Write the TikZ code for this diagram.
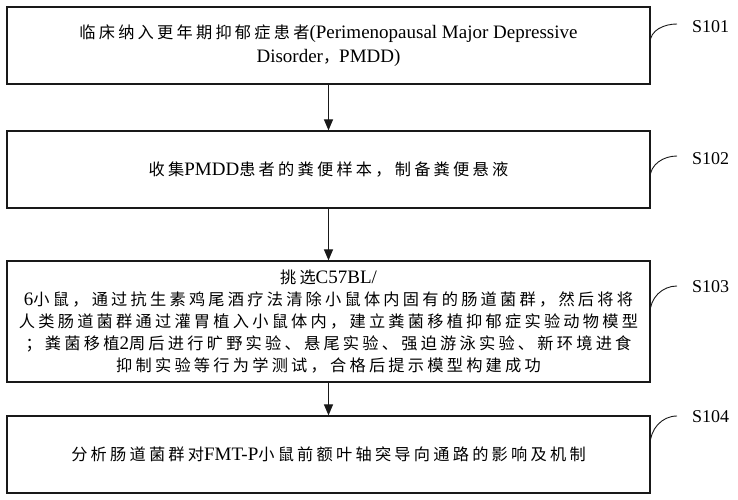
\documentclass[tikz,border=0pt]{standalone}
\usepackage{fontspec}
\setmainfont{Liberation Serif}
\newfontfamily\zhfont[LetterSpace=20,Scale=0.853]{Noto Sans CJK SC}
\newcommand{\zh}[1]{{\zhfont #1}}
\usetikzlibrary{arrows.meta}
\definecolor{flowBlack}{RGB}{25,25,25}

\begin{document}
\begin{tikzpicture}[x=1pt,y=1pt,
  stepbox/.style={draw=flowBlack,line width=1.2pt,minimum width=643pt,
    inner sep=0pt,align=center,font=\fontsize{19}{22}\selectfont},
  flow/.style={-{Triangle[length=11pt,width=9pt]},line width=1.2pt,flowBlack},
  tag/.style={anchor=west,inner sep=0pt,font=\fontsize{18}{20}\selectfont},
  hook/.style={line width=0.9pt,flowBlack}]
  \useasboundingbox (0,0) rectangle (738,500);
  % steps
  \node[stepbox,minimum height=77pt] (s101) at (328.5,454.5)
    {\zh{临床纳入更年期抑郁症患者}(Perimenopausal Major Depressive\\[2pt]
     Disorder\zh{，}PMDD)};
  \node[stepbox,minimum height=77pt] (s102) at (328.5,330.5)
    {\zh{收集}PMDD\zh{患者的粪便样本，制备粪便悬液}};
  \node[stepbox,minimum height=121pt] (s103) at (328.5,178.5)
    {\zh{挑选}C57BL/\\
     6\zh{小鼠，通过抗生素鸡尾酒疗法清除小鼠体内固有的肠道菌群，然后将将}\\
     \zh{人类肠道菌群通过灌胃植入小鼠体内，建立粪菌移植抑郁症实验动物模型}\\
     \zh{；粪菌移植}2\zh{周后进行旷野实验、悬尾实验、强迫游泳实验、新环境进食}\\
     \zh{抑制实验等行为学测试，合格后提示模型构建成功}};
  \node[stepbox,minimum height=77pt] (s104) at (328.5,45.5)
    {\zh{分析肠道菌群对}FMT-P\zh{小鼠前额叶轴突导向通路的影响及机制}};
  % arrows
  \draw[flow] (s101.south) -- (s102.north);
  \draw[flow] (s102.south) -- (s103.north);
  \draw[flow] (s103.south) -- (s104.north);
  % step labels
  \node[tag] (t101) at (692,473) {S101};
  \node[tag] (t102) at (692,341) {S102};
  \node[tag] (t103) at (692,213) {S103};
  \node[tag] (t104) at (692,83) {S104};
  \coordinate (h101) at (650,457);
  \coordinate (h102) at (650,322);
  \coordinate (h103) at (650,187);
  \coordinate (h104) at (650,55);
  \draw[hook] (h101) to[out=90,in=180] ([xshift=-15pt,yshift=3pt]t101.west);
  \draw[hook] (h102) to[out=90,in=180] ([xshift=-15pt,yshift=3pt]t102.west);
  \draw[hook] (h103) to[out=90,in=180] ([xshift=-15pt,yshift=1pt]t103.west);
  \draw[hook] (h104) to[out=90,in=180] ([xshift=-15pt,yshift=1pt]t104.west);
\end{tikzpicture}
\end{document}
